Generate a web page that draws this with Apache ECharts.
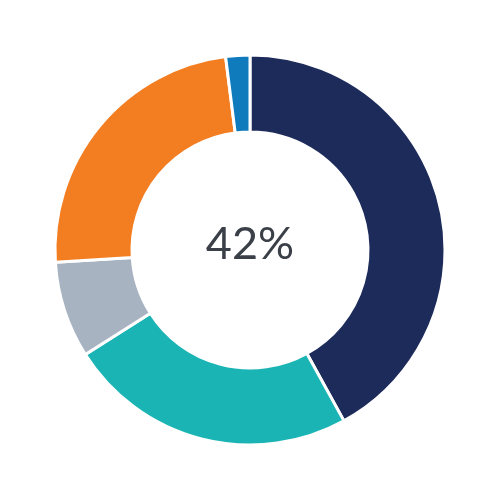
<!DOCTYPE html>
<html><head><meta charset="utf-8">
<script src="https://cdn.jsdelivr.net/npm/echarts@6/dist/echarts.min.js"></script>
<style>html,body{margin:0;padding:0;background:#fff}#c{width:500px;height:500px}</style>
</head><body><div id="c"></div>
<script>
const categories = ['A', 'B', 'C', 'D', 'E'];
const values = [42, 24, 8, 24, 2];
const colors = ['#1c2b5a', '#1ab4b5', '#a8b3c2', '#f37d21', '#0f7bbd'];
const centerLabel = '42%';

const chart = echarts.init(document.getElementById('c'), null, {renderer: 'canvas'});
chart.setOption({
  animation: false,
  graphic: [{
    type: 'text',
    left: 'center',
    top: 222,
    style: {text: centerLabel, font: '400 45px Lato', fill: '#3a3f48'}
  }],
  series: [{
    type: 'pie',
    radius: [118, 195],
    center: [250, 250],
    startAngle: 90,
    clockwise: true,
    label: {show: false},
    labelLine: {show: false},
    itemStyle: {borderColor: '#fff', borderWidth: 3},
    data: categories.map((c, i) => ({name: c, value: values[i], itemStyle: {color: colors[i]}}))
  }]
});
</script></body></html>
